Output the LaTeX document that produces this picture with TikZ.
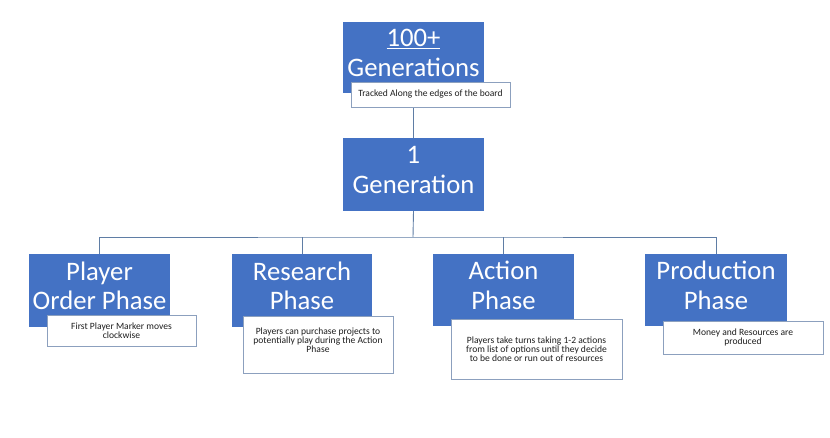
\documentclass[tikz,border=0pt]{standalone}
\usepackage{fontspec}
\setmainfont{Carlito}
\definecolor{boxblue}{HTML}{4472C4}
\definecolor{linecol}{RGB}{95,125,165}
\definecolor{noteline}{RGB}{140,160,190}
\definecolor{notetext}{RGB}{30,30,30}
\tikzset{
  bigbox/.style={fill=boxblue, draw=none, text=white, align=center, inner sep=0pt,
    text depth=9.5bp, font=\fontsize{26.8}{30}\selectfont},
  notebox/.style={fill=white, draw=noteline, line width=0.8pt, text=notetext, align=center, inner sep=1pt,
    font=\fontsize{9.6}{9}\selectfont},
  conn/.style={draw=linecol, line width=0.9pt}
}
\begin{document}
\begin{tikzpicture}[x=1bp,y=-1bp]
\useasboundingbox[fill=white] (0,0) rectangle (830,438);
% boxes
\node[bigbox, minimum width=141bp, minimum height=71bp] (top) at (413.5,57.5) {\underline{100+}\\Generations};
\node[bigbox, minimum width=141bp, minimum height=73bp] (gen) at (413.5,174.5) {1\\Generation};
\node[bigbox, minimum width=141bp, minimum height=73bp] (player) at (99.5,290.5) {Player\\Order Phase};
\node[bigbox, minimum width=140bp, minimum height=73bp] (research) at (302,290.5) {Research\\Phase};
\node[bigbox, minimum width=141bp, minimum height=72bp] (action) at (503.5,290) {Action\\Phase};
\node[bigbox, minimum width=142bp, minimum height=72bp] (production) at (716,290) {Production\\Phase};
% connectors
\coordinate (bus) at (413,237);
\draw[conn] (top.south) -- (gen.north);
\draw[conn] (gen.south) -- (bus);
\draw[conn] (player.north) |- (bus) -| (production.north);
\draw[conn] (research.north) -- (research.north |- bus);
\draw[conn] (action.north) -- (action.north |- bus);
% notes
\node[notebox, minimum width=159bp, minimum height=25bp] (ntop) at (430.5,94.5) {Tracked Along the edges of the board};
\node[notebox, minimum width=149bp, minimum height=31bp] (nplayer) at (121.5,330.5) {First Player Marker moves\\clockwise};
\node[notebox, minimum width=150bp, minimum height=57bp, text depth=9bp] (nresearch) at (318,344.5) {Players can purchase projects to\\potentially play during the Action\\Phase};
\node[notebox, minimum width=171bp, minimum height=60bp] (naction) at (536.5,349) {Players take turns taking 1-2 actions\\from list of options until they decide\\to be done or run out of resources};
\node[notebox, minimum width=160bp, minimum height=33bp] (nproduction) at (743,337.5) {Money and Resources are\\produced};
\end{tikzpicture}
\end{document}
